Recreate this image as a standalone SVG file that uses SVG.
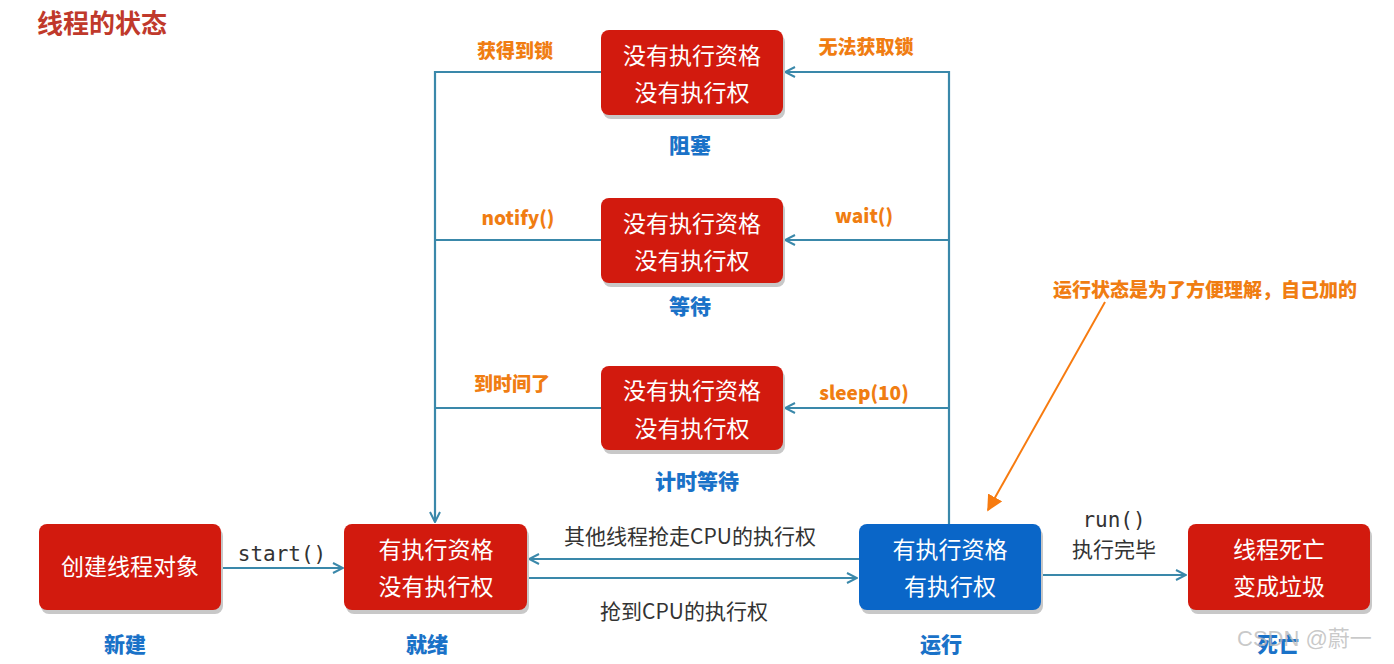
<svg xmlns="http://www.w3.org/2000/svg" width="1394" height="664" viewBox="0 0 1394 664">
<style>
.box{fill:#d21a0e;rx:8}
.blue{fill:#0a66c8}
.sh{fill:#c8c8c8;rx:8}
.bt{font-family:"Noto Sans CJK SC","Liberation Sans",sans-serif;font-size:23px;fill:#fff;text-anchor:middle}
.st{font-family:"Noto Sans CJK SC",sans-serif;font-size:21px;font-weight:900;fill:#1a72c8;text-anchor:middle}
.ol{font-family:"Noto Sans CJK SC","Liberation Sans",sans-serif;font-size:19px;font-weight:900;fill:#f07d12;text-anchor:middle}
.lab{font-family:"Noto Sans CJK SC",sans-serif;font-size:21px;fill:#333;text-anchor:middle}
.mono{font-family:"DejaVu Sans Mono",monospace;font-size:21px;fill:#333;text-anchor:middle}
.ln{fill:none;stroke:#3a88aa;stroke-width:2.2}
</style>
<defs>
<marker id="a" viewBox="0 0 12 12" refX="11" refY="6" markerWidth="12" markerHeight="12" markerUnits="userSpaceOnUse" orient="auto"><path d="M1,1 L11,6 L1,11" fill="none" stroke="#3a88aa" stroke-width="2"/></marker>
<marker id="o" viewBox="0 0 10 10" refX="9" refY="5" markerWidth="16" markerHeight="16" markerUnits="userSpaceOnUse" orient="auto"><path d="M0,0 L10,5 L0,10 z" fill="#f77b10"/></marker>
</defs>
<rect width="1394" height="664" fill="#fff"/>
<text x="37" y="33" font-family="Noto Sans CJK SC,sans-serif" font-size="26" font-weight="700" fill="#c0392b">线程的状态</text>
<g id="connectors">
<path class="ln" d="M601,72 H435 V522" marker-end="url(#a)"/>
<path class="ln" d="M601,240 H435"/>
<path class="ln" d="M601,408 H435"/>
<path class="ln" d="M949,524 V72 H785" marker-end="url(#a)"/>
<path class="ln" d="M949,240 H785" marker-end="url(#a)"/>
<path class="ln" d="M949,408 H785" marker-end="url(#a)"/>
<path class="ln" d="M221,568 H343" marker-end="url(#a)"/>
<path class="ln" d="M859,559 H529" marker-end="url(#a)"/>
<path class="ln" d="M527,578 H857" marker-end="url(#a)"/>
<path class="ln" d="M1041,575 H1186" marker-end="url(#a)"/>
<path d="M1105,302 L988,510" stroke="#f77b10" stroke-width="2" marker-end="url(#o)"/>
</g>
<text class="ol" x="515" y="58">获得到锁</text>
<text class="ol" x="866" y="54">无法获取锁</text>
<text class="ol" x="518" y="225" font-family="Liberation Sans,sans-serif" font-size="20">notify()</text>
<text class="ol" x="864" y="223" font-family="Liberation Sans,sans-serif" font-size="20">wait()</text>
<text class="ol" x="512" y="391">到时间了</text>
<text class="ol" x="864" y="400" font-family="Liberation Sans,sans-serif" font-size="20">sleep(10)</text>
<text class="ol" x="1205" y="297" font-size="21">运行状态是为了方便理解，自己加的</text>
<text class="mono" x="282" y="561">start()</text>
<text class="lab" x="690" y="544">其他线程抢走CPU的执行权</text>
<text class="lab" x="684" y="619">抢到CPU的执行权</text>
<text class="mono" x="1114" y="527">run()</text>
<text class="lab" x="1114" y="557">执行完毕</text>
<g id="blocked"><rect class="sh" x="603" y="34" width="182" height="85"/><rect class="box" x="601" y="30" width="182" height="85"/><text class="bt" x="692" y="64">没有执行资格</text><text class="bt" x="692" y="101">没有执行权</text><text class="st" x="690" y="153">阻塞</text></g>
<g id="waiting"><rect class="sh" x="603" y="202" width="182" height="85"/><rect class="box" x="601" y="198" width="182" height="85"/><text class="bt" x="692" y="232">没有执行资格</text><text class="bt" x="692" y="269">没有执行权</text><text class="st" x="690" y="314">等待</text></g>
<g id="timed"><rect class="sh" x="603" y="370" width="182" height="84"/><rect class="box" x="601" y="366" width="182" height="84"/><text class="bt" x="692" y="399">没有执行资格</text><text class="bt" x="692" y="437">没有执行权</text><text class="st" x="697" y="489">计时等待</text></g>
<g id="new"><rect class="sh" x="41" y="528" width="182" height="86"/><rect class="box" x="39" y="524" width="182" height="86"/><text class="bt" x="130" y="575">创建线程对象</text><text class="st" x="125" y="652">新建</text></g>
<g id="ready"><rect class="sh" x="346" y="528" width="183" height="86"/><rect class="box" x="344" y="524" width="183" height="86"/><text class="bt" x="436" y="558">有执行资格</text><text class="bt" x="436" y="595">没有执行权</text><text class="st" x="427" y="652">就绪</text></g>
<g id="running"><rect class="sh" x="861" y="528" width="182" height="86"/><rect class="box blue" x="859" y="524" width="182" height="86"/><text class="bt" x="950" y="558">有执行资格</text><text class="bt" x="950" y="595">有执行权</text><text class="st" x="941" y="652">运行</text></g>
<g id="dead"><rect class="sh" x="1190" y="528" width="182" height="86"/><rect class="box" x="1188" y="524" width="182" height="86"/><text class="bt" x="1279" y="558">线程死亡</text><text class="bt" x="1279" y="595">变成垃圾</text><text class="st" x="1278" y="652">死亡</text></g>
<text x="1237" y="646" font-family="Liberation Sans,Noto Sans CJK SC,sans-serif" font-size="22" fill="#bbb" fill-opacity="0.8">CSDN @蔚一</text>
</svg>
